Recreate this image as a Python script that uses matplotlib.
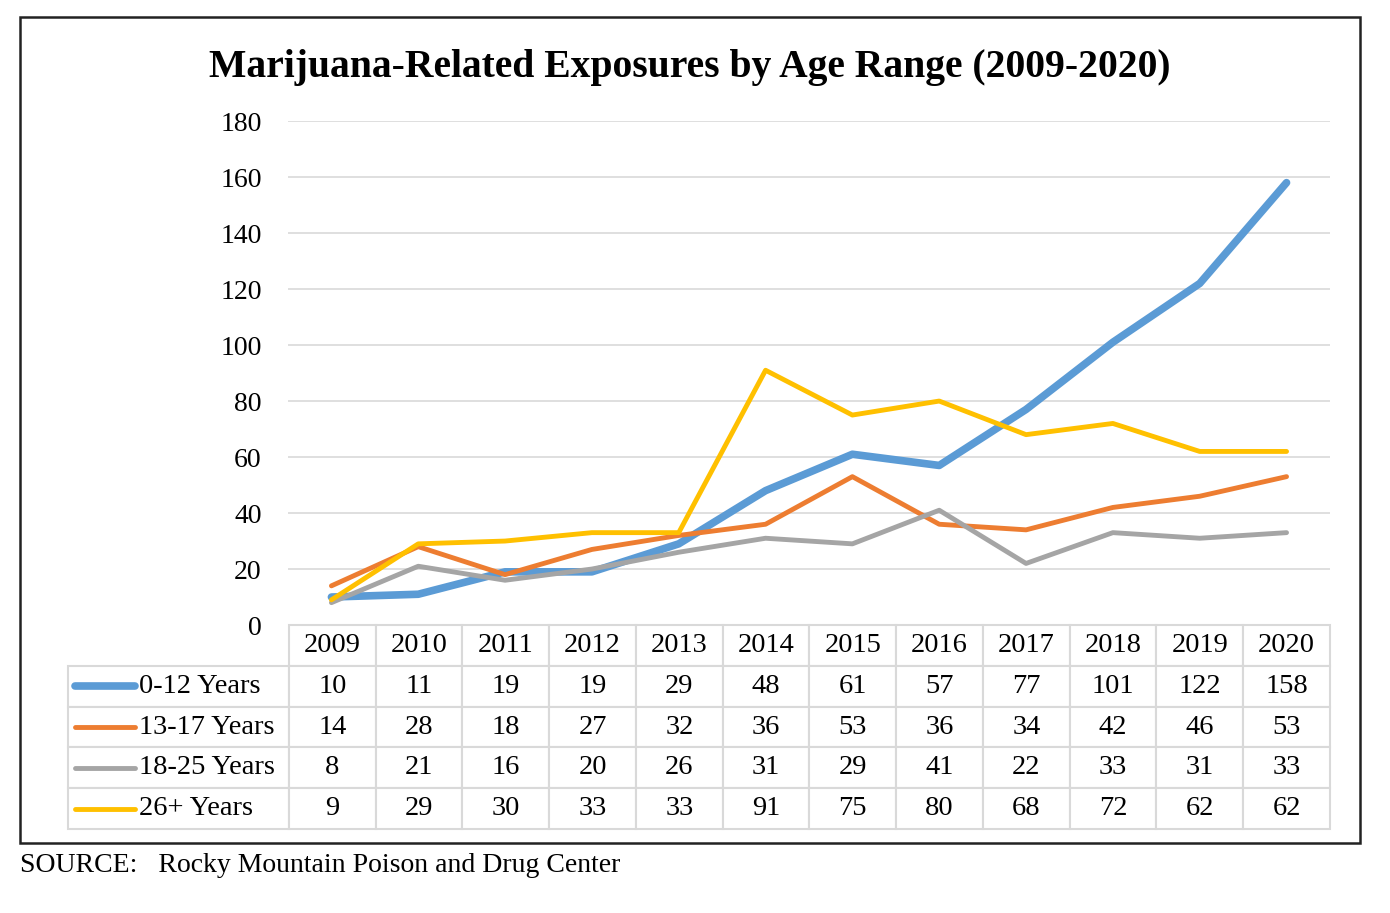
import matplotlib.pyplot as plt
from matplotlib.patches import Rectangle

plt.rcParams['font.family'] = ['Liberation Serif', 'DejaVu Serif']

years = ['2009', '2010', '2011', '2012', '2013', '2014',
         '2015', '2016', '2017', '2018', '2019', '2020']
age_groups = ['0-12 Years', '13-17 Years', '18-25 Years', '26+ Years']
kids = [10, 11, 19, 19, 29, 48, 61, 57, 77, 101, 122, 158]
teens = [14, 28, 18, 27, 32, 36, 53, 36, 34, 42, 46, 53]
young_adults = [8, 21, 16, 20, 26, 31, 29, 41, 22, 33, 31, 33]
adults = [9, 29, 30, 33, 33, 91, 75, 80, 68, 72, 62, 62]
yticks = [0, 20, 40, 60, 80, 100, 120, 140, 160, 180]

series = [kids, teens, young_adults, adults]
colors = ['#5B9BD5', '#ED7D31', '#A5A5A5', '#FFC000']
widths = [5.5, 3.5, 3.5, 3.5]

fig = plt.figure(figsize=(13.9, 9.13), dpi=100)
fig.patches.append(Rectangle((0.0144, 0.0767), 0.964, 0.9047, transform=fig.transFigure,
                             fill=False, ec='#222222', lw=1.8))

ax = fig.add_axes([0.2072, 0.3154, 0.7496, 0.5520])
x = range(len(years))
for vals, c, w in zip(series, colors, widths):
    ax.plot(x, vals, color=c, lw=w, solid_capstyle='round', solid_joinstyle='round')

ax.set_xlim(-0.5, len(years) - 0.5)
ax.set_ylim(0, 180)
ax.set_yticks(yticks)
ax.set_xticks([])
ax.grid(axis='y', color='#d9d9d9', lw=1.2)
ax.set_axisbelow(True)
for s in ax.spines.values():
    s.set_visible(False)
ax.tick_params(axis='y', length=0, pad=19, labelsize=20)

# table: first column holds the series names (with legend keys)
cells = [[name] + [str(v) for v in vals] for name, vals in zip(age_groups, series)]
col_w = [221] + [86.8] * len(years)
tab = ax.table(cellText=cells, colLabels=[''] + years, colWidths=col_w,
               cellLoc='center', loc='bottom',
               bbox=[-0.2111, -0.4048, 1.2111, 0.4048])
tab.auto_set_font_size(False)
tab.set_fontsize(20.5)
for (r, col), cell in tab.get_celld().items():
    cell.set_edgecolor('#d9d9d9')
    cell.set_linewidth(1.5)
    if col == 0:
        cell._loc = 'left'
        cell.get_text().set_ha('left')
        cell.PAD = 0.32
    if r == 0 and col == 0:
        cell.visible_edges = ''

# legend keys inside the name cells
row_h = 0.4048 / 5
for i, (c, w) in enumerate(zip(colors, widths)):
    yy = -row_h * (1.5 + i)
    ax.plot([-0.2044, -0.1468], [yy, yy], color=c, lw=w, solid_capstyle='round',
            transform=ax.transAxes, clip_on=False)

fig.text(0.4964, 0.926, 'Marijuana-Related Exposures by Age Range (2009-2020)',
         ha='center', va='center', fontsize=28.5, fontweight='bold')
fig.text(0.0144, 1 - 865 / 913, 'SOURCE:   Rocky Mountain Poison and Drug Center',
         ha='left', va='center', fontsize=20)

fig.savefig('out.png', dpi=100)
